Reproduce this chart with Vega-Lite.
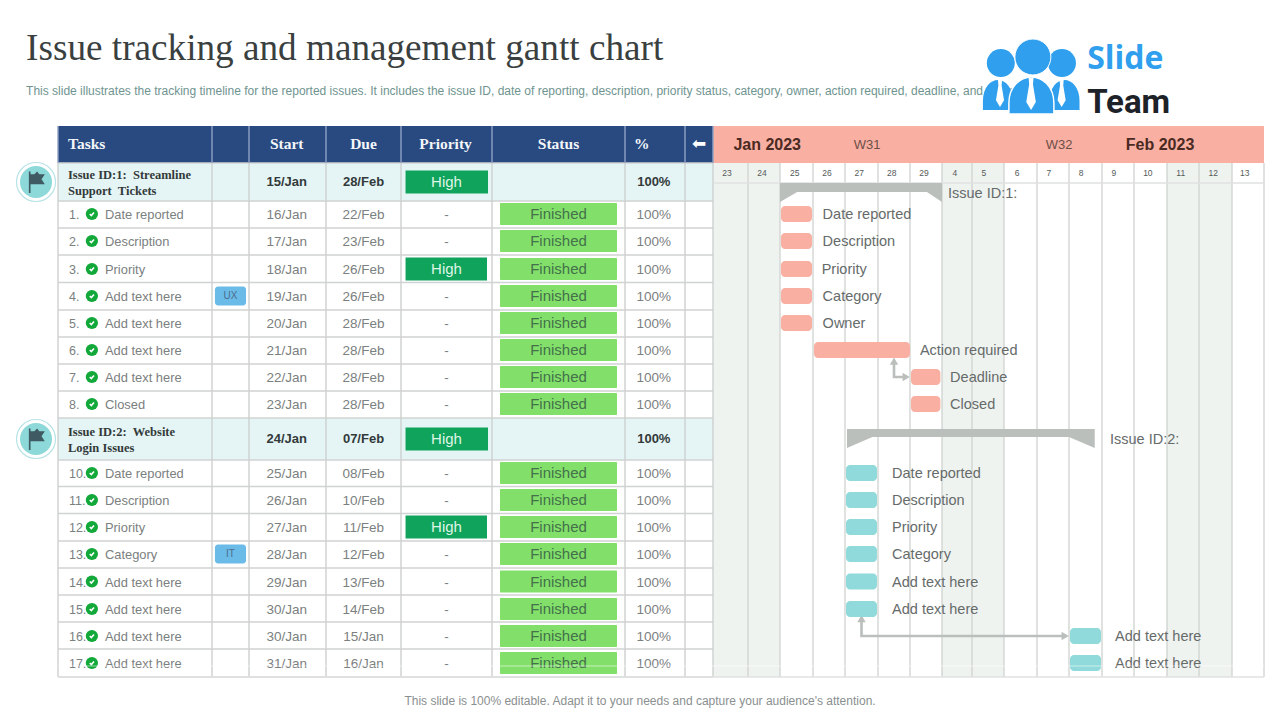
{
"$schema":"https://vega.github.io/schema/vega-lite/v6.json",
"width":1280,"height":720,"padding":0,"autosize":{"type":"none"},"background":"#ffffff",
"config":{"view":{"stroke":null},"axis":{"disable":true},"legend":{"disable":true},"text":{"font":"Liberation Sans"}},
"datasets":{
"tasks":[
{"row":2,"num":"1.","task":"Date reported","start":"16/Jan","due":"22/Feb","priority":"-","status":"Finished","pct":"100%"},
{"row":3,"num":"2.","task":"Description","start":"17/Jan","due":"23/Feb","priority":"-","status":"Finished","pct":"100%"},
{"row":4,"num":"3.","task":"Priority","start":"18/Jan","due":"26/Feb","priority":"High","status":"Finished","pct":"100%"},
{"row":5,"num":"4.","task":"Add text here","tag":"UX","start":"19/Jan","due":"26/Feb","priority":"-","status":"Finished","pct":"100%"},
{"row":6,"num":"5.","task":"Add text here","start":"20/Jan","due":"28/Feb","priority":"-","status":"Finished","pct":"100%"},
{"row":7,"num":"6.","task":"Add text here","start":"21/Jan","due":"28/Feb","priority":"-","status":"Finished","pct":"100%"},
{"row":8,"num":"7.","task":"Add text here","start":"22/Jan","due":"28/Feb","priority":"-","status":"Finished","pct":"100%"},
{"row":9,"num":"8.","task":"Closed","start":"23/Jan","due":"28/Feb","priority":"-","status":"Finished","pct":"100%"},
{"row":11,"num":"10.","task":"Date reported","start":"25/Jan","due":"08/Feb","priority":"-","status":"Finished","pct":"100%"},
{"row":12,"num":"11.","task":"Description","start":"26/Jan","due":"10/Feb","priority":"-","status":"Finished","pct":"100%"},
{"row":13,"num":"12.","task":"Priority","start":"27/Jan","due":"11/Feb","priority":"High","status":"Finished","pct":"100%"},
{"row":14,"num":"13.","task":"Category","tag":"IT","start":"28/Jan","due":"12/Feb","priority":"-","status":"Finished","pct":"100%"},
{"row":15,"num":"14.","task":"Add text here","start":"29/Jan","due":"13/Feb","priority":"-","status":"Finished","pct":"100%"},
{"row":16,"num":"15.","task":"Add text here","start":"30/Jan","due":"14/Feb","priority":"-","status":"Finished","pct":"100%"},
{"row":17,"num":"16.","task":"Add text here","start":"30/Jan","due":"15/Jan","priority":"-","status":"Finished","pct":"100%"},
{"row":18,"num":"17.","task":"Add text here","start":"31/Jan","due":"16/Jan","priority":"-","status":"Finished","pct":"100%"}
],
"issues":[
{"row":1,"top":0.5,"bottom":1.5,"task":"Issue ID:1:\u00a0 Streamline\nSupport\u00a0 Tickets","start":"15/Jan","due":"28/Feb","priority":"High","pct":"100%"},
{"row":10,"top":9.5,"bottom":10.5,"task":"Issue ID:2:\u00a0 Website\nLogin Issues","start":"24/Jan","due":"07/Feb","priority":"High","pct":"100%"}
],
"rowEdges":[{"e":0.5},{"e":1.5},{"e":2.5},{"e":3.5},{"e":4.5},{"e":5.5},{"e":6.5},{"e":7.5},{"e":8.5},{"e":9.5},{"e":10.5},{"e":11.5},{"e":12.5},{"e":13.5},{"e":14.5},{"e":15.5},{"e":16.5},{"e":17.5},{"e":18.5}],
"colEdges":[{"e":0},{"e":1},{"e":2},{"e":3},{"e":4},{"e":5},{"e":6},{"e":7},{"e":8}],
"dayEdges":[{"e":9},{"e":10},{"e":11},{"e":12},{"e":13},{"e":14},{"e":15},{"e":16},{"e":17},{"e":18},{"e":19},{"e":20},{"e":21},{"e":22},{"e":23},{"e":24},{"e":25}],
"weekend":[{"a":8,"b":10},{"a":15,"b":17},{"a":22,"b":24}],
"days":[{"d":"23","x":8.4},{"d":"24","x":9.44},{"d":"25","x":10.45},{"d":"26","x":11.44},{"d":"27","x":12.43},{"d":"28","x":13.43},{"d":"29","x":14.44},{"d":"4","x":15.43},{"d":"5","x":16.37},{"d":"6","x":17.4},{"d":"7","x":18.37},{"d":"8","x":19.37},{"d":"9","x":20.37},{"d":"10","x":21.42},{"d":"11","x":22.43},{"d":"12","x":23.43},{"d":"13","x":24.4}],
"headers":[{"t":"Start","x":2.49},{"t":"Due","x":3.5},{"t":"Priority","x":4.49},{"t":"Status","x":5.5},{"t":"%","x":6.28}],
"bars":[
{"row":2,"a":10.03,"b":10.97,"issue":"1"},{"row":3,"a":10.03,"b":10.97,"issue":"1"},{"row":4,"a":10.03,"b":10.97,"issue":"1"},{"row":5,"a":10.03,"b":10.97,"issue":"1"},{"row":6,"a":10.03,"b":10.97,"issue":"1"},
{"row":7,"a":11.03,"b":14,"issue":"1"},{"row":8,"a":14.03,"b":14.95,"issue":"1"},{"row":9,"a":14.03,"b":14.95,"issue":"1"},
{"row":11,"a":12.03,"b":12.97,"issue":"2"},{"row":12,"a":12.03,"b":12.97,"issue":"2"},{"row":13,"a":12.03,"b":12.97,"issue":"2"},{"row":14,"a":12.03,"b":12.97,"issue":"2"},{"row":15,"a":12.03,"b":12.97,"issue":"2"},{"row":16,"a":12.03,"b":12.97,"issue":"2"},
{"row":17,"a":19.03,"b":19.97,"issue":"2"},{"row":18,"a":19.03,"b":19.97,"issue":"2"}
],
"labels":[
{"t":"Issue ID:1:","x":15.2,"y":1.29},
{"t":"Date reported","x":11.3,"y":2},{"t":"Description","x":11.3,"y":3},{"t":"Priority","x":11.27,"y":4},{"t":"Category","x":11.3,"y":5},{"t":"Owner","x":11.3,"y":6},
{"t":"Action required","x":14.31,"y":7},{"t":"Deadline","x":15.27,"y":8},{"t":"Closed","x":15.27,"y":9},
{"t":"Issue ID:2:","x":20.25,"y":10},
{"t":"Date reported","x":13.44,"y":11},{"t":"Description","x":13.44,"y":12},{"t":"Priority","x":13.44,"y":13},{"t":"Category","x":13.44,"y":14},{"t":"Add text here","x":13.44,"y":15},{"t":"Add text here","x":13.44,"y":16},
{"t":"Add text here","x":20.41,"y":17},{"t":"Add text here","x":20.41,"y":18}
],
"brackets":[
{"g":"1","x":10,"top":1.026,"bot":1.538},{"g":"1","x":10.52,"top":1.026,"bot":1.263},{"g":"1","x":14.53,"top":1.026,"bot":1.263},{"g":"1","x":15,"top":1.026,"bot":1.538},
{"g":"2","x":12.06,"top":9.762,"bot":10.214},{"g":"2","x":12.83,"top":9.762,"bot":9.952},{"g":"2","x":19,"top":9.762,"bot":9.952},{"g":"2","x":19.78,"top":9.762,"bot":10.214}
],
"links":[
{"g":"1","o":1,"x":13.5,"y":7.45},{"g":"1","o":2,"x":13.5,"y":8},{"g":"1","o":3,"x":13.9,"y":8},
{"g":"2","o":1,"x":12.5,"y":16.4},{"g":"2","o":2,"x":12.5,"y":17},{"g":"2","o":3,"x":18.9,"y":17}
],
"headsUp":[{"x":13.5,"y":7.4},{"x":12.5,"y":16.37}],
"headsRight":[{"x":13.88,"y":8},{"x":18.88,"y":17}],
"flags":[{"row":1},{"row":10}],
"month":[{"t":"Jan 2023","x":9.6},{"t":"Feb 2023","x":21.79}],
"week":[{"t":"W31","x":12.67},{"t":"W32","x":18.69}]
},
"layer":[
{"data":{"values":[{"t":"Issue tracking and management gantt chart"}]},"mark":{"type":"text","align":"left","baseline":"middle","font":"Liberation Serif","fontSize":37.2,"fill":"#3a3f3f","dy":1},
 "encoding":{
  "x":{"datum":-0.55,"scale":{"type":"linear","nice":false,"zero":false,"domain":[-1,0,1,2,3,4,5,6,7,8,9,10,11,12,13,14,15,16,17,18,19,20,21,22,23,24,25,26],"range":[0,58,212,249,326,401,492,625,685,713,748,780,813,845,878,910,942,972,1004,1037,1069,1102,1134,1167,1199,1232,1264,1280]}},
  "y":{"datum":-2,"scale":{"type":"linear","nice":false,"zero":false,"domain":[-3,-2,-1,-0.5,0,0.5,1,1.5,2,2.5,3,3.5,4,4.5,5,5.5,6,6.5,7,7.5,8,8.5,9,9.5,10,10.5,11,11.5,12,12.5,13,13.5,14,14.5,15,15.5,16,16.5,17,17.5,18,18.5,20,21],"range":[0,48,90,126,144,163,182,201,214,228,241,255,269,282.5,296,310,323,337,350,364,377,391,404,418,439,460,473,486.5,500,513.5,527,541,554,568,581.5,595,609,622,636,649,663,677,701,720]}},
  "text":{"field":"t"}}},
{"data":{"values":[{"t":"This slide illustrates the tracking timeline for the reported issues. It includes the issue ID, date of reporting, description, priority status, category, owner, action required, deadline, and status too."}]},"mark":{"type":"text","align":"left","baseline":"middle","fontSize":12,"fill":"#6f9490","dy":1},"encoding":{"x":{"datum":-0.55},"y":{"datum":-1},"text":{"field":"t"}}},
{"data":{"values":[{"t":"This slide is 100% editable. Adapt it to your needs and capture your audience's attention."}]},"mark":{"type":"text","align":"center","baseline":"middle","fontSize":12,"fill":"#8a8f8f"},"encoding":{"x":{"datum":6.25},"y":{"datum":20},"text":{"field":"t"}}},

{"data":{"values":[{"a":0}]},"mark":{"type":"rect","fill":"#284a80"},"encoding":{"x":{"datum":0},"x2":{"datum":8},"y":{"datum":-0.5},"y2":{"datum":0.5}}},
{"data":{"values":[{"a":0}]},"mark":{"type":"rect","fill":"#f9b0a3"},"encoding":{"x":{"datum":8},"x2":{"datum":25},"y":{"datum":-0.5},"y2":{"datum":0.5}}},
{"data":{"name":"issues"},"mark":{"type":"rect","fill":"#e5f5f5"},"encoding":{"x":{"datum":0},"x2":{"datum":8},"y":{"field":"top","type":"quantitative"},"y2":{"field":"bottom"}}},
{"data":{"name":"weekend"},"mark":{"type":"rect","fill":"#eff3f0"},"encoding":{"x":{"field":"a","type":"quantitative"},"x2":{"field":"b"},"y":{"datum":0.5},"y2":{"datum":18.5}}},
{"data":{"name":"rowEdges"},"mark":{"type":"rule","stroke":"#d0d3d3","strokeWidth":1.4},"encoding":{"y":{"field":"e","type":"quantitative"},"x":{"datum":0},"x2":{"datum":8}}},
{"data":{"name":"colEdges"},"mark":{"type":"rule","stroke":"#cdd0d0","strokeWidth":1.4},"encoding":{"x":{"field":"e","type":"quantitative"},"y":{"datum":0.5},"y2":{"datum":18.5}}},
{"data":{"name":"colEdges"},"mark":{"type":"rule","stroke":"#8fa3c4","strokeWidth":1.4},"encoding":{"x":{"field":"e","type":"quantitative"},"y":{"datum":-0.5},"y2":{"datum":0.5}}},
{"data":{"name":"dayEdges"},"mark":{"type":"rule","stroke":"#cfd3d0","strokeWidth":1.3},"encoding":{"x":{"field":"e","type":"quantitative"},"y":{"datum":0.5},"y2":{"datum":18.5}}},
{"data":{"values":[{"a":0}]},"mark":{"type":"rule","stroke":"#dfe2e0","strokeWidth":1.4},"encoding":{"x":{"datum":8},"x2":{"datum":25},"y":{"datum":1.026}}},
{"data":{"values":[{"a":0}]},"mark":{"type":"rule","stroke":"#dfe2e0","strokeWidth":1.4},"encoding":{"x":{"datum":0},"x2":{"datum":25},"y":{"datum":18.5}}},

{"data":{"values":[{"t":"Tasks"}]},"mark":{"type":"text","align":"left","baseline":"middle","font":"Liberation Serif","fontWeight":"bold","fontSize":15.5,"fill":"#f4f6fa"},"encoding":{"x":{"datum":0.065},"y":{"datum":0},"text":{"field":"t"}}},
{"data":{"name":"headers"},"mark":{"type":"text","align":"center","baseline":"middle","font":"Liberation Serif","fontWeight":"bold","fontSize":15.5,"fill":"#f4f6fa"},"encoding":{"x":{"field":"x","type":"quantitative"},"y":{"datum":0},"text":{"field":"t"}}},
{"data":{"values":[{"t":"⬅"}]},"mark":{"type":"text","align":"center","baseline":"middle","font":"DejaVu Sans","fontSize":17,"fill":"#ffffff"},"encoding":{"x":{"datum":7.5},"y":{"datum":0},"text":{"field":"t"}}},
{"data":{"name":"month"},"mark":{"type":"text","align":"center","baseline":"middle","fontWeight":"bold","fontSize":16,"fill":"#4a2a22","dy":1},"encoding":{"x":{"field":"x","type":"quantitative"},"y":{"datum":0},"text":{"field":"t"}}},
{"data":{"name":"week"},"mark":{"type":"text","align":"center","baseline":"middle","fontSize":13,"fill":"#6e4f47","dy":1},"encoding":{"x":{"field":"x","type":"quantitative"},"y":{"datum":0},"text":{"field":"t"}}},
{"data":{"name":"days"},"mark":{"type":"text","align":"center","baseline":"middle","fontSize":8.5,"fill":"#555a58"},"encoding":{"x":{"field":"x","type":"quantitative"},"y":{"datum":0.763},"text":{"field":"d"}}},

{"data":{"name":"issues"},"mark":{"type":"text","align":"left","baseline":"middle","font":"Liberation Serif","fontWeight":"bold","fontSize":12.5,"fill":"#333a3a","lineBreak":"\n","lineHeight":16,"dy":-7},"encoding":{"x":{"datum":0.065},"y":{"field":"row","type":"quantitative"},"text":{"field":"task"}}},
{"data":{"name":"issues"},"mark":{"type":"text","align":"center","baseline":"middle","fontWeight":"bold","fontSize":13,"fill":"#333a3a"},"encoding":{"x":{"datum":2.49},"y":{"field":"row","type":"quantitative"},"text":{"field":"start"}}},
{"data":{"name":"issues"},"mark":{"type":"text","align":"center","baseline":"middle","fontWeight":"bold","fontSize":13,"fill":"#333a3a"},"encoding":{"x":{"datum":3.5},"y":{"field":"row","type":"quantitative"},"text":{"field":"due"}}},
{"data":{"name":"issues"},"mark":{"type":"bar","fill":"#0fa35c","height":23},"encoding":{"x":{"datum":4.05},"x2":{"datum":4.956},"y":{"field":"row","type":"quantitative"}}},
{"data":{"name":"issues"},"mark":{"type":"text","align":"center","baseline":"middle","fontSize":15,"fill":"#dff5e6"},"encoding":{"x":{"datum":4.5},"y":{"field":"row","type":"quantitative"},"text":{"field":"priority"}}},
{"data":{"name":"issues"},"mark":{"type":"text","align":"center","baseline":"middle","fontWeight":"bold","fontSize":13,"fill":"#333a3a"},"encoding":{"x":{"datum":6.48},"y":{"field":"row","type":"quantitative"},"text":{"field":"pct"}}},

{"data":{"name":"flags"},"mark":{"type":"point","shape":"circle","filled":true,"fill":"#ffffff","stroke":"#b8e3e6","strokeWidth":1.2,"opacity":1,"size":1521},"encoding":{"x":{"datum":-0.379},"y":{"field":"row","type":"quantitative"}}},
{"data":{"name":"flags"},"mark":{"type":"point","shape":"circle","filled":true,"fill":"#8dd8d8","opacity":1,"size":1024},"encoding":{"x":{"datum":-0.379},"y":{"field":"row","type":"quantitative"}}},
{"data":{"name":"flags"},"mark":{"type":"point","filled":true,"fill":"#3f5a62","opacity":1,"size":484,"shape":"M-0.75,-0.95 L-0.6,-0.95 L-0.6,-0.7 L-0.25,-0.7 L0,-0.95 L0.2,-0.7 L0.7,-0.7 L0.4,-0.25 L0.7,0.2 L-0.6,0.2 L-0.6,1 L-0.75,1 Z"},"encoding":{"x":{"datum":-0.36},"y":{"field":"row","type":"quantitative"}}},

{"data":{"name":"tasks"},"mark":{"type":"text","align":"left","baseline":"middle","fontSize":12.5,"fill":"#7b8080","dy":1},"encoding":{"x":{"datum":0.071},"y":{"field":"row","type":"quantitative"},"text":{"field":"num"}}},
{"data":{"name":"tasks"},"mark":{"type":"point","shape":"circle","filled":true,"fill":"#12a83a","opacity":1,"size":150},"encoding":{"x":{"datum":0.22},"y":{"field":"row","type":"quantitative"}}},
{"data":{"name":"tasks"},"mark":{"type":"point","filled":false,"stroke":"#ffffff","strokeWidth":1.6,"opacity":1,"size":50,"shape":"M-0.6,0 L-0.15,0.45 L0.6,-0.4"},"encoding":{"x":{"datum":0.22},"y":{"field":"row","type":"quantitative"}}},
{"data":{"name":"tasks"},"mark":{"type":"text","align":"left","baseline":"middle","fontSize":12.9,"fill":"#7b8080","dy":1},"encoding":{"x":{"datum":0.305},"y":{"field":"row","type":"quantitative"},"text":{"field":"task"}}},
{"data":{"name":"tasks"},"transform":[{"filter":"datum.tag"}],"mark":{"type":"bar","fill":"#6bbbe8","height":19,"cornerRadius":3},"encoding":{"x":{"datum":1.08},"x2":{"datum":1.92},"y":{"field":"row","type":"quantitative"}}},
{"data":{"name":"tasks"},"transform":[{"filter":"datum.tag"}],"mark":{"type":"text","align":"center","baseline":"middle","fontSize":10,"fill":"#4d6d8c"},"encoding":{"x":{"datum":1.5},"y":{"field":"row","type":"quantitative"},"text":{"field":"tag"}}},
{"data":{"name":"tasks"},"mark":{"type":"text","align":"center","baseline":"middle","fontSize":13.5,"fill":"#7b8080","dy":1},"encoding":{"x":{"datum":2.49},"y":{"field":"row","type":"quantitative"},"text":{"field":"start"}}},
{"data":{"name":"tasks"},"mark":{"type":"text","align":"center","baseline":"middle","fontSize":13.5,"fill":"#7b8080","dy":1},"encoding":{"x":{"datum":3.5},"y":{"field":"row","type":"quantitative"},"text":{"field":"due"}}},
{"data":{"name":"tasks"},"transform":[{"filter":"datum.priority==='High'"}],"mark":{"type":"bar","fill":"#0fa35c","height":23},"encoding":{"x":{"datum":4.05},"x2":{"datum":4.945},"y":{"field":"row","type":"quantitative"}}},
{"data":{"name":"tasks"},"transform":[{"filter":"datum.priority==='High'"}],"mark":{"type":"text","align":"center","baseline":"middle","fontSize":15,"fill":"#dff5e6"},"encoding":{"x":{"datum":4.5},"y":{"field":"row","type":"quantitative"},"text":{"field":"priority"}}},
{"data":{"name":"tasks"},"transform":[{"filter":"datum.priority==='-'"}],"mark":{"type":"text","align":"center","baseline":"middle","fontSize":13.5,"fill":"#7b8080","dy":1},"encoding":{"x":{"datum":4.5},"y":{"field":"row","type":"quantitative"},"text":{"field":"priority"}}},
{"data":{"name":"tasks"},"mark":{"type":"bar","fill":"#82e06a","height":22,"cornerRadius":1},"encoding":{"x":{"datum":5.06},"x2":{"datum":5.94},"y":{"field":"row","type":"quantitative"}}},
{"data":{"name":"tasks"},"mark":{"type":"text","align":"center","baseline":"middle","fontSize":15,"fill":"#44704a"},"encoding":{"x":{"datum":5.5},"y":{"field":"row","type":"quantitative"},"text":{"field":"status"}}},
{"data":{"name":"tasks"},"mark":{"type":"text","align":"center","baseline":"middle","fontSize":13.5,"fill":"#7b8080","dy":1},"encoding":{"x":{"datum":6.48},"y":{"field":"row","type":"quantitative"},"text":{"field":"pct"}}},

{"data":{"name":"brackets"},"mark":{"type":"area","fill":"#babfbb","opacity":1,"orient":"vertical"},"encoding":{"x":{"field":"x","type":"quantitative"},"y":{"field":"top","type":"quantitative"},"y2":{"field":"bot"},"detail":{"field":"g"}}},
{"data":{"name":"links"},"mark":{"type":"line","stroke":"#babfbb","strokeWidth":2.6},"encoding":{"x":{"field":"x","type":"quantitative"},"y":{"field":"y","type":"quantitative"},"detail":{"field":"g"},"order":{"field":"o"}}},
{"data":{"name":"headsUp"},"mark":{"type":"point","shape":"triangle-up","filled":true,"fill":"#babfbb","opacity":1,"size":70},"encoding":{"x":{"field":"x","type":"quantitative"},"y":{"field":"y","type":"quantitative"}}},
{"data":{"name":"headsRight"},"mark":{"type":"point","shape":"triangle-right","filled":true,"fill":"#babfbb","opacity":1,"size":70},"encoding":{"x":{"field":"x","type":"quantitative"},"y":{"field":"y","type":"quantitative"}}},
{"data":{"name":"bars"},"mark":{"type":"bar","height":16,"cornerRadius":4},"encoding":{"x":{"field":"a","type":"quantitative"},"x2":{"field":"b"},"y":{"field":"row","type":"quantitative"},"color":{"field":"issue","type":"nominal","scale":{"domain":["1","2"],"range":["#f9b0a3","#90dadb"]}}}},
{"data":{"name":"labels"},"mark":{"type":"text","align":"left","baseline":"middle","fontSize":14.5,"fill":"#666b6a","dy":1},"encoding":{"x":{"field":"x","type":"quantitative"},"y":{"field":"y","type":"quantitative"},"text":{"field":"t"}}},
{"data":{"values":[{"a":0}]},"mark":{"type":"rule","stroke":"#ffffff","strokeWidth":1,"opacity":0.55},"encoding":{"x":{"datum":0},"x2":{"datum":25},"y":{"datum":18.107}}},

{"data":{"values":[{"x":16.81,"y":-0.93},{"x":18.86,"y":-0.93}]},"mark":{"type":"point","filled":true,"fill":"#2f9fee","opacity":1,"size":900,"shape":"M-1,1 L-1,0.4 C-1,-0.5 -0.5,-1 0,-1 C0.5,-1 1,-0.5 1,0.4 L1,1 Z"},"encoding":{"x":{"field":"x","type":"quantitative"},"y":{"field":"y","type":"quantitative"}}},
{"data":{"values":[{"x":16.9,"y":-1.64},{"x":18.78,"y":-1.64}]},"mark":{"type":"point","shape":"circle","filled":true,"fill":"#2f9fee","opacity":1,"size":784},"encoding":{"x":{"field":"x","type":"quantitative"},"y":{"field":"y","type":"quantitative"}}},
{"data":{"values":[{"x":17.83,"y":-0.924}]},"mark":{"type":"point","filled":true,"fill":"#2f9fee","stroke":"#ffffff","strokeWidth":1.5,"opacity":1,"size":2025,"shape":"M-1,0.82 L-1,0.35 C-1,-0.4 -0.5,-0.82 0,-0.82 C0.5,-0.82 1,-0.4 1,0.35 L1,0.82 Z"},"encoding":{"x":{"field":"x","type":"quantitative"},"y":{"field":"y","type":"quantitative"}}},
{"data":{"values":[{"x":17.875,"y":-1.786}]},"mark":{"type":"point","shape":"circle","filled":true,"fill":"#2f9fee","stroke":"#ffffff","strokeWidth":1,"opacity":1,"size":1296},"encoding":{"x":{"field":"x","type":"quantitative"},"y":{"field":"y","type":"quantitative"}}},
{"data":{"values":[{"x":16.875,"y":-0.95},{"x":18.77,"y":-0.95}]},"mark":{"type":"point","filled":true,"fill":"#ffffff","opacity":1,"size":729,"shape":"M-0.15,-1 L0.15,-1 L0.12,-0.6 L0.3,0.5 L0,1 L-0.3,0.5 L-0.12,-0.6 Z"},"encoding":{"x":{"field":"x","type":"quantitative"},"y":{"field":"y","type":"quantitative"}}},
{"data":{"values":[{"x":17.82,"y":-0.944}]},"mark":{"type":"point","filled":true,"fill":"#ffffff","opacity":1,"size":1024,"shape":"M-0.15,-1 L0.15,-1 L0.12,-0.6 L0.3,0.5 L0,1 L-0.3,0.5 L-0.12,-0.6 Z"},"encoding":{"x":{"field":"x","type":"quantitative"},"y":{"field":"y","type":"quantitative"}}},
{"data":{"values":[{"t":"Slide"}]},"mark":{"type":"text","align":"left","baseline":"middle","font":"Open Sans","fontWeight":"bold","fontSize":32,"fill":"#2f9fee"},"encoding":{"x":{"datum":19.55},"y":{"datum":-1.74},"text":{"field":"t"}}},
{"data":{"values":[{"t":"Team"}]},"mark":{"type":"text","align":"left","baseline":"middle","font":"Roboto","fontWeight":"bold","fontSize":33,"fill":"#1d2228"},"encoding":{"x":{"datum":19.55},"y":{"datum":-0.82},"text":{"field":"t"}}}
]
}
